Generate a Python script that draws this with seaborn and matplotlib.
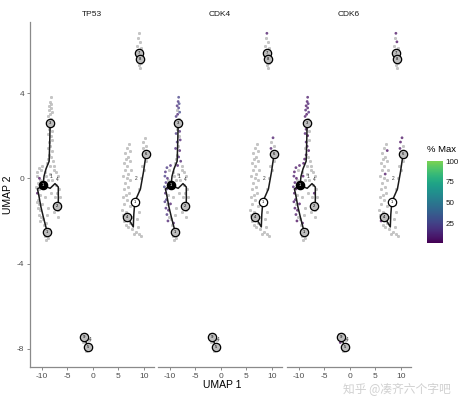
import numpy as np
import pandas as pd
import matplotlib
matplotlib.use("Agg")
import matplotlib.pyplot as plt
import seaborn as sns
from matplotlib.colors import ListedColormap, Normalize
from matplotlib.cm import ScalarMappable

sns.set_style("white")
plt.rcParams['font.family'] = ['Liberation Sans', 'DejaVu Sans']

# ---------------- data ----------------
genes = ["TP53", "CDK4", "CDK6"]

# cells: upper-left strip
upper_x = [-8.3, -8.4, -8.2, -8.6, -8.3, -8.7, -8.1, -8.5, -8.8, -8.2, -8.9, -7.9, -8.6, -8.1,
           -8.8, -8.3, -8.0, -8.6, -8.4, -8.9, -8.1, -8.6, -8.3, -8.9, -7.9, -9.1, -8.5, -7.6]
upper_y = [3.8, 3.6, 3.5, 3.4, 3.3, 3.2, 3.1, 3.0, 2.9, 2.8, 2.6, 2.5, 2.3, 2.2,
           2.1, 2.0, 1.8, 1.7, 1.5, 1.4, 1.3, 1.1, 1.0, 0.9, 0.8, 0.7, 0.6, 0.6]
# cells: lower-left blob
lower_x = [-10.6, -10.9, -10.2, -11.0, -10.5, -10.8, -10.3, -11.1, -10.6, -10.9, -10.4, -10.7,
           -11.0, -10.5, -10.8, -10.3, -10.6, -10.1, -10.4, -9.8, -9.6, -9.3, -9.5, -8.8,
           -9.2, -8.7, -9.9, -9.5, -9.2, -8.9, -8.5, -8.1, -7.7, -7.3, -6.9, -7.2,
           -6.6, -7.0, -6.5, -7.4, -6.8, -7.6, -6.9, -9.9, -9.4, -8.8, -8.3, -9.1]
lower_y = [0.5, 0.3, 0.4, 0.1, 0.0, -0.2, -0.1, -0.4, -0.5, -0.7, -0.8, -1.0,
           -1.1, -1.2, -1.4, -1.5, -1.7, -1.8, -2.0, -1.9, -2.2, -2.1, -2.7, -2.8,
           -2.9, -2.4, 0.6, 0.3, 0.1, -0.1, 0.2, -0.1, 0.4, 0.3, 0.1, -0.3,
           -0.5, -0.7, -0.9, -0.9, -1.5, -1.6, -1.8, -1.2, -0.9, -1.4, -0.7, -1.7]
# cells: right cluster
right_x = [7.0, 6.6, 7.3, 6.2, 6.9, 6.4, 7.2, 6.0, 6.7, 7.4, 6.3, 6.9, 5.9, 6.6, 7.2, 6.2,
           6.8, 6.0, 7.0, 6.4, 5.8, 6.7, 6.1, 7.3, 5.6,
           10.2, 9.9, 10.4, 9.8, 10.3, 9.6, 10.0, 9.4, 9.1,
           5.8, 6.1, 6.4, 6.9, 7.2, 7.6, 8.0, 8.4, 8.8, 9.1, 9.4, 8.6, 9.0, 7.7, 8.9, 6.5]
right_y = [1.6, 1.4, 1.3, 1.2, 1.0, 0.9, 0.8, 0.7, 0.6, 0.4, 0.4, 0.2, 0.1, 0.0, -0.1, -0.2,
           -0.4, -0.5, -0.7, -0.8, -0.9, -1.0, -1.2, -1.3, -1.5,
           1.9, 1.7, 1.5, 1.4, 0.8, 0.6, 0.4, 0.0, -0.5,
           -1.7, -2.0, -2.2, -2.3, -2.1, -2.4, -2.6, -2.5, -2.3, -2.6, -2.7, -1.9, -1.6, -1.8, -1.2, -1.6]
# cells: top-right and bottom clusters
top_x = [9.0, 8.8, 9.2, 8.6, 9.4, 8.9, 9.6, 8.7, 9.5, 9.1, 9.3, 8.8]
top_y = [6.8, 6.6, 6.4, 6.2, 6.1, 5.9, 5.7, 5.6, 5.4, 5.3, 5.15, 6.0]
bottom_x = [-2.1, -1.3, -0.7, -1.9, -0.9, -1.3, -1.6, -0.6]
bottom_y = [-7.3, -7.5, -7.6, -7.7, -8.0, -8.1, -7.9, -7.8]

# expression (% of max) per gene, region by region
tp53_upper = [0] * 28
tp53_lower = [0, 0, 0, 0, 4, 0, 0, 0, 0, 5, 0, 0, 0, 0, 0, 0, 0, 0, 0, 0, 0, 0, 0, 0,
              0, 0, 0, 0, 0, 0, 0, 0, 0, 0, 0, 0, 0, 0, 0, 0, 0, 0, 0, 0, 0, 0, 0, 0]
tp53_right = [0] * 50
tp53_top = [0] * 12
tp53_bottom = [0] * 8

cdk4_upper = [24, 18, 26, 15, 21, 0, 28, 12, 19, 0, 22, 16, 0, 14, 20, 0, 12, 18, 0, 15,
              10, 0, 14, 0, 12, 0, 10, 0]
cdk4_lower = [20, 16, 0, 22, 14, 18, 0, 25, 15, 12, 0, 20, 17, 0, 14, 10, 18, 0, 12,
              0, 0, 10, 0, 0, 0, 0, 14, 0, 0, 0, 0, 0,
              0, 0, 0, 0, 0, 0, 0, 0, 0, 0, 0, 10, 0, 0, 0, 0]
cdk4_right = [0] * 25 + [10, 0, 0, 8, 0, 0, 0, 0, 0] + [0] * 16
cdk4_top = [8, 0, 0, 0, 0, 0, 0, 0, 0, 0, 0, 0]
cdk4_bottom = [0] * 8

cdk6_upper = [9, 7, 12, 6, 8, 10, 14, 5, 8, 0, 11, 7, 6, 0, 9, 5, 0, 8, 6, 0,
              5, 7, 0, 6, 0, 5, 0, 0]
cdk6_lower = [8, 6, 0, 10, 5, 7, 0, 12, 6, 5, 0, 9, 7, 0, 6, 4, 8, 0, 5,
              0, 0, 6, 0, 0, 0, 0, 6, 0, 5, 0, 0, 0,
              0, 0, 0, 0, 0, 5, 0, 0, 0, 0, 0, 5, 0, 0, 0, 0]
cdk6_right = [0, 0, 5, 0, 0, 0, 0, 0, 0, 0, 0, 6, 0, 0, 0, 0, 0, 0, 0, 0, 0, 0, 0, 0, 0,
              6, 5, 0, 7, 0, 0, 0, 0, 0,
              0, 5, 0, 0, 0, 0, 0, 0, 0, 0, 0, 0, 0, 0, 0, 0]
cdk6_top = [6, 0, 5, 0, 0, 0, 0, 0, 0, 0, 0, 0]
cdk6_bottom = [0, 0, 0, 5, 0, 0, 0, 0]

# trajectory graph (principal graph paths)
traj_paths = [
    ([-8.4, -8.5, -8.6, -9.2, -9.6, -9.8], [2.58, 1.5, 0.8, 0.45, 0.1, -0.33]),
    ([-9.8, -10.9, -10.7, -10.2, -9.75, -9.4, -9.0], [-0.33, -0.5, -0.7, -1.35, -1.8, -2.13, -2.5]),
    ([-9.8, -8.4, -7.45, -6.8, -6.8, -7.1], [-0.33, -0.47, -0.25, -0.41, -1.19, -1.3]),
    ([10.4, 9.9, 9.3, 8.2], [1.13, 0.3, -0.5, -1.1]),
    ([8.2, 8.0, 7.9, 6.7], [-1.1, -1.7, -2.28, -1.8]),
    ([9.0, 9.2], [5.87, 5.59]),
    ([-1.76, -1.0], [-7.46, -7.9]),
]
leaf_x = [-8.4, -7.1, -9.0, 10.4, 6.7, 9.0, 9.2, -1.76, -1.0]
leaf_y = [2.58, -1.3, -2.5, 1.13, -1.8, 5.87, 5.59, -7.46, -7.9]
leaf_lab = ["3", "2", "1", "6", "4", "7", "8", "9", "5"]
branch_x, branch_y, branch_lab = [-9.8], [-0.33], ["1"]
root_x, root_y, root_lab = [8.2], [-1.1], ["1"]
small_lab_x = [-8.3, -6.9, 8.4, -0.5]
small_lab_y = [0.1, -0.05, 0.0, -7.55]
small_lab = ["1", "4", "2", "4"]

cbar_ticks = [25, 50, 75, 100]
x_ticks = [-10, -5, 0, 5, 10]
y_ticks = [4, 0, -4, -8]

# ---------------- build ----------------
cell_x = upper_x + lower_x + right_x + top_x + bottom_x
cell_y = upper_y + lower_y + right_y + top_y + bottom_y
expr = {
    "TP53": tp53_upper + tp53_lower + tp53_right + tp53_top + tp53_bottom,
    "CDK4": cdk4_upper + cdk4_lower + cdk4_right + cdk4_top + cdk4_bottom,
    "CDK6": cdk6_upper + cdk6_lower + cdk6_right + cdk6_top + cdk6_bottom,
}
rows = []
for g in genes:
    for xx, yy, ee in zip(cell_x, cell_y, expr[g]):
        rows.append((g, xx, yy, ee))
df = pd.DataFrame(rows, columns=["gene", "x", "y", "pct"])

vir = plt.get_cmap("viridis")
cmap = ListedColormap(vir(np.linspace(0, 0.8, 256)))
vmin, vmax = 2, 100
norm = Normalize(vmin, vmax)

W, H = 474, 398
def rect(l, t, r, b):
    return [l / W, 1 - b / H, (r - l) / W, (b - t) / H]

fig = plt.figure(figsize=(W / 100, H / 100), dpi=100)
lefts = [30, 158, 287]
xlim = (-12.35, 11.96)
ylim = (-8.85, 7.33)
axc = '#8a8a8a'
tickc = '#4d4d4d'

for i, g in enumerate(genes):
    ax = fig.add_axes(rect(lefts[i], 22, lefts[i] + 124, 367))
    sub = df[df.gene == g]
    zero = sub[sub.pct == 0]
    pos = sub[sub.pct > 0]
    sns.scatterplot(data=zero, x="x", y="y", color="#c6c6c6", s=4, linewidth=0.15,
                    edgecolor="#a0a0a0", ax=ax, legend=False, zorder=2)
    if len(pos):
        sns.scatterplot(data=pos, x="x", y="y", hue="pct", palette=cmap, hue_norm=norm,
                        s=4, linewidth=0, alpha=0.75, ax=ax, legend=False, zorder=3)
    for px, py in traj_paths:
        ax.plot(px, py, color="#1a1a1a", lw=1.1, zorder=4, solid_capstyle="round")
    nodes = pd.DataFrame({"x": leaf_x, "y": leaf_y})
    sns.scatterplot(data=nodes, x="x", y="y", s=36, color="#bdbdbd", edgecolor="black",
                    linewidth=0.9, ax=ax, legend=False, zorder=5)
    sns.scatterplot(data=pd.DataFrame({"x": root_x, "y": root_y}), x="x", y="y", s=36,
                    color="white", edgecolor="black", linewidth=0.9, ax=ax, legend=False, zorder=5)
    sns.scatterplot(data=pd.DataFrame({"x": branch_x, "y": branch_y}), x="x", y="y", s=36,
                    color="black", edgecolor="black", linewidth=0.9, ax=ax, legend=False, zorder=5)
    for xx, yy, lb in zip(leaf_x, leaf_y, leaf_lab):
        ax.text(xx, yy, lb, fontsize=3, ha="center", va="center", color="black", zorder=6)
    for xx, yy, lb in zip(root_x, root_y, root_lab):
        ax.text(xx, yy, lb, fontsize=3, ha="center", va="center", color="black", zorder=6)
    for xx, yy, lb in zip(branch_x, branch_y, branch_lab):
        ax.text(xx, yy, lb, fontsize=3, ha="center", va="center", color="white", zorder=6)
    for xx, yy, lb in zip(small_lab_x, small_lab_y, small_lab):
        ax.text(xx, yy, lb, fontsize=3.5, ha="center", va="center", color="#333333", zorder=6)

    ax.set_xlim(*xlim)
    ax.set_ylim(*ylim)
    ax.set_xlabel("")
    ax.set_ylabel("")
    ax.set_facecolor("none")
    for s in ["top", "right"]:
        ax.spines[s].set_visible(False)
    ax.spines["bottom"].set_color(axc)
    ax.spines["bottom"].set_linewidth(0.9)
    ax.set_xticks(x_ticks)
    ax.set_xticklabels([str(t) for t in x_ticks])
    ax.tick_params(axis="x", length=2.5, width=0.7, color=axc, labelsize=6,
                   labelcolor=tickc, pad=1.5, bottom=True)
    if i == 0:
        ax.spines["left"].set_color(axc)
        ax.spines["left"].set_linewidth(0.9)
        ax.set_yticks(y_ticks)
        ax.set_yticklabels([str(t) for t in y_ticks])
        ax.tick_params(axis="y", length=2.5, width=0.7, color=axc, labelsize=6,
                       labelcolor=tickc, pad=1.5, left=True)
    else:
        ax.spines["left"].set_visible(False)
        ax.set_yticks([])
    ax.set_title(g, fontsize=6, color="#1a1a1a", pad=4)

fig.text(222 / W, 1 - 385 / H, "UMAP 1", ha="center", va="center", fontsize=7.5, color="black")
fig.text(8 / W, 1 - 195 / H, "UMAP 2", ha="center", va="center", rotation=90,
         fontsize=7.5, color="black")

# colour bar
cax = fig.add_axes(rect(427, 161, 443, 243))
sm = ScalarMappable(norm=norm, cmap=cmap)
cb = fig.colorbar(sm, cax=cax, ticks=cbar_ticks)
cb.outline.set_visible(False)
cax.yaxis.set_ticks_position("both")
cax.tick_params(axis="y", direction="in", length=3, width=0.6, color="white",
                labelsize=5.8, labelcolor="#1a1a1a", pad=2, left=True, right=True,
                labelleft=False, labelright=True)
fig.text(427 / W, 1 - 150 / H, "% Max", ha="left", va="center", fontsize=6.8, color="black")

# watermark (sits just below the tick labels)
fig.text(397 / W, 1 - 389 / H, "知乎 @凑齐六个字吧", ha="center", va="center", fontsize=8.5,
         color="#c8c8c8", alpha=0.85, family=["Noto Sans CJK SC", "DejaVu Sans"], zorder=10)

fig.savefig("out.png", dpi=100)
